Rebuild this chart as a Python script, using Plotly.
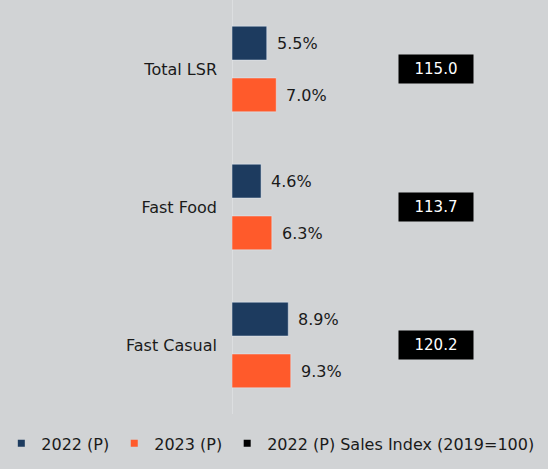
import plotly.graph_objects as go

categories = ["Total LSR", "Fast Food", "Fast Casual"]
growth_2022 = [5.5, 4.6, 8.9]
growth_2023 = [7.0, 6.3, 9.3]
sales_index_2022 = [115.0, 113.7, 120.2]
series_names = ["2022 (P)", "2023 (P)", "2022 (P) Sales Index (2019=100)"]

BLUE = "#1d3b5f"
ORANGE = "#ff5a2b"
BG = "#d1d3d5"
FONT = "DejaVu Sans, Verdana, sans-serif"

fig = go.Figure()
fig.add_trace(go.Bar(y=categories, x=growth_2022, orientation="h", marker_color=BLUE,
                     showlegend=False, name=series_names[0]))
fig.add_trace(go.Bar(y=categories, x=growth_2023, orientation="h", marker_color=ORANGE,
                     showlegend=False, name=series_names[1]))

# legend-only entries with small square markers
for name, col in zip(series_names, [BLUE, ORANGE, "#000000"]):
    fig.add_trace(go.Scatter(x=[None], y=[None], mode="markers", name=name,
                             marker=dict(symbol="square", size=7, color=col)))

annotations = []
for cat, v22, v23, idx in zip(categories, growth_2022, growth_2023, sales_index_2022):
    annotations.append(dict(x=v22, y=cat, xref="x", yref="y", text=f"{v22:.1f}%",
                            showarrow=False, xanchor="left", xshift=8, yshift=26,
                            font=dict(size=16, color="#1a1a1a", family=FONT)))
    annotations.append(dict(x=v23, y=cat, xref="x", yref="y", text=f"{v23:.1f}%",
                            showarrow=False, xanchor="left", xshift=8, yshift=-26,
                            font=dict(size=16, color="#1a1a1a", family=FONT)))
    annotations.append(dict(x=0.647, y=cat, xref="paper", yref="y", text=f"{idx:.1f}",
                            showarrow=False, xanchor="center", bgcolor="#000000",
                            width=66, height=20, borderpad=4,
                            font=dict(size=15, color="#ffffff", family=FONT)))

fig.update_layout(
    width=548, height=469,
    paper_bgcolor=BG, plot_bgcolor=BG,
    margin=dict(l=232, r=0, t=0, b=55),
    barmode="group", bargap=0.249, bargroupgap=0.346,
    font=dict(family=FONT, size=16, color="#1a1a1a"),
    xaxis=dict(range=[0, 50], showgrid=False, showticklabels=False, zeroline=True,
               zerolinecolor="#dcdee0", zerolinewidth=1, fixedrange=True),
    yaxis=dict(autorange="reversed", showgrid=False, showline=False, fixedrange=True,
               ticks="", ticklabelstandoff=14, tickfont=dict(size=16)),
    legend=dict(orientation="h", x=-0.73, xanchor="left", y=-0.03, yanchor="top",
                font=dict(size=16, color="#1a1a1a"), itemwidth=30,
                bgcolor="rgba(0,0,0,0)"),
    annotations=annotations,
)

fig.write_html("out.html", config={"displayModeBar": False},
               post_script="document.body.style.margin='0';")
